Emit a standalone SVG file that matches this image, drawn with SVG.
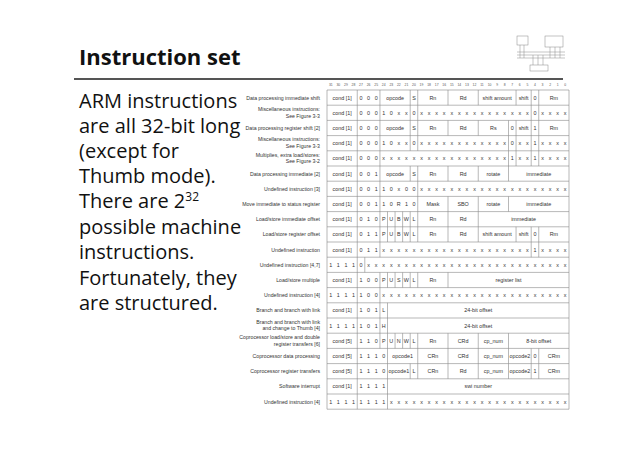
<svg xmlns="http://www.w3.org/2000/svg" width="638" height="451" viewBox="0 0 638 451">
<style>
.t{font-family:"Liberation Sans",Arial,sans-serif;font-size:5.4px;fill:#333;text-anchor:middle}
.l{font-family:"Liberation Sans",Arial,sans-serif;font-size:5.2px;fill:#333;text-anchor:end}
.h{font-family:"Liberation Sans",Arial,sans-serif;font-size:3.4px;fill:#555;text-anchor:middle}
.b{font-family:"Open Sans",sans-serif;font-size:20px;fill:#111}
.g{stroke:#888;stroke-width:0.6;fill:none}
</style>
<rect width="638" height="451" fill="#fff"/>
<text x="79" y="65" font-family="Open Sans, sans-serif" font-weight="bold" font-size="22" fill="#111">Instruction set</text>
<line x1="74" y1="79" x2="563" y2="79" stroke="#555" stroke-width="2"/>
<g id="logo" stroke="#888" stroke-width="0.5" fill="#fff">
<rect x="517" y="36" width="11" height="9"/><rect x="545" y="36" width="18" height="11"/>
<path d="M517 52H565M517 55H565M517 58H565M520 45V58M524 45V58M550 47V58M555 47V58M560 47V58M533 55V65M538 55V65M543 55V65"/>
<rect x="530" y="65" width="18" height="6"/>
</g>
<g id="text">
<text class="b" x="79" y="108">ARM instructions</text>
<text class="b" x="79" y="133">are all 32-bit long</text>
<text class="b" x="79" y="158">(except for</text>
<text class="b" x="79" y="183">Thumb mode).</text>
<text class="b" x="79" y="208">There are 2<tspan font-size="12" dy="-7">32</tspan></text>
<text class="b" x="79" y="234">possible machine</text>
<text class="b" x="79" y="259">instructions.</text>
<text class="b" x="79" y="285">Fortunately, they</text>
<text class="b" x="79" y="310">are structured.</text>
</g>
<g id="header" class="h">
<text x="330.8" y="86">31</text><text x="338.3" y="86">30</text><text x="345.9" y="86">29</text><text x="353.5" y="86">28</text><text x="361.0" y="86">27</text><text x="368.6" y="86">26</text><text x="376.2" y="86">25</text><text x="383.7" y="86">24</text><text x="391.3" y="86">23</text><text x="398.8" y="86">22</text><text x="406.4" y="86">21</text><text x="414.0" y="86">20</text><text x="421.5" y="86">19</text><text x="429.1" y="86">18</text><text x="436.7" y="86">17</text><text x="444.2" y="86">16</text><text x="451.8" y="86">15</text><text x="459.3" y="86">14</text><text x="466.9" y="86">13</text><text x="474.5" y="86">12</text><text x="482.0" y="86">11</text><text x="489.6" y="86">10</text><text x="497.2" y="86">9</text><text x="504.7" y="86">8</text><text x="512.3" y="86">7</text><text x="519.8" y="86">6</text><text x="527.4" y="86">5</text><text x="535.0" y="86">4</text><text x="542.5" y="86">3</text><text x="550.1" y="86">2</text><text x="557.7" y="86">1</text><text x="565.2" y="86">0</text>
</g>
<g id="connectors" class="g">
<path d="M327 90H569M327 105.2H569M327 120.4H569M327 135.6H569M327 150.8H569M327 166H569M327 181.2H569M327 196.4H569M327 211.6H569M327 226.8H569M327 242H569M327 257.2H569M327 272.4H569M327 287.6H569M327 302.8H569M327 318H569M327 333.2H569M327 348.4H569M327 363.6H569M327 378.8H569M327 394H569M327 409.2H569"/>
<path d="M327 90V409.2M569 90V409.2M357.25 90V409.2"/>
<path d="M379.94 90v15.2M410.19 90v15.2M417.75 90v15.2M448 90v15.2M478.25 90v15.2M516.06 90v15.2M531.19 90v15.2M538.75 90v15.2"/>
<path d="M379.94 105.2v15.2M410.19 105.2v15.2M417.75 105.2v15.2M531.19 105.2v15.2M538.75 105.2v15.2"/>
<path d="M379.94 120.4v15.2M410.19 120.4v15.2M417.75 120.4v15.2M448 120.4v15.2M478.25 120.4v15.2M508.5 120.4v15.2M516.06 120.4v15.2M531.19 120.4v15.2M538.75 120.4v15.2"/>
<path d="M379.94 135.6v15.2M410.19 135.6v15.2M417.75 135.6v15.2M508.5 135.6v15.2M516.06 135.6v15.2M531.19 135.6v15.2M538.75 135.6v15.2"/>
<path d="M379.94 150.8v15.2M508.5 150.8v15.2M516.06 150.8v15.2M531.19 150.8v15.2M538.75 150.8v15.2"/>
<path d="M379.94 166v15.2M410.19 166v15.2M417.75 166v15.2M448 166v15.2M478.25 166v15.2M508.5 166v15.2"/>
<path d="M379.94 181.2v15.2M417.75 181.2v15.2"/>
<path d="M379.94 196.4v15.2M417.75 196.4v15.2M448 196.4v15.2M478.25 196.4v15.2M508.5 196.4v15.2"/>
<path d="M379.94 211.6v15.2M387.5 211.6v15.2M395.06 211.6v15.2M402.63 211.6v15.2M410.19 211.6v15.2M417.75 211.6v15.2M448 211.6v15.2M478.25 211.6v15.2"/>
<path d="M379.94 226.8v15.2M387.5 226.8v15.2M395.06 226.8v15.2M402.63 226.8v15.2M410.19 226.8v15.2M417.75 226.8v15.2M448 226.8v15.2M478.25 226.8v15.2M516.06 226.8v15.2M531.19 226.8v15.2M538.75 226.8v15.2"/>
<path d="M379.94 242v15.2M531.19 242v15.2M538.75 242v15.2"/>
<path d="M364.81 257.2v15.2"/>
<path d="M379.94 272.4v15.2M387.5 272.4v15.2M395.06 272.4v15.2M402.63 272.4v15.2M410.19 272.4v15.2M417.75 272.4v15.2M448 272.4v15.2"/>
<path d="M379.94 287.6v15.2"/>
<path d="M379.94 302.8v15.2M387.5 302.8v15.2"/>
<path d="M379.94 318v15.2M387.5 318v15.2"/>
<path d="M379.94 333.2v15.2M387.5 333.2v15.2M395.06 333.2v15.2M402.63 333.2v15.2M410.19 333.2v15.2M417.75 333.2v15.2M448 333.2v15.2M478.25 333.2v15.2M508.5 333.2v15.2"/>
<path d="M387.5 348.4v15.2M417.75 348.4v15.2M448 348.4v15.2M478.25 348.4v15.2M508.5 348.4v15.2M531.19 348.4v15.2M538.75 348.4v15.2"/>
<path d="M387.5 363.6v15.2M410.19 363.6v15.2M417.75 363.6v15.2M448 363.6v15.2M478.25 363.6v15.2M508.5 363.6v15.2M531.19 363.6v15.2M538.75 363.6v15.2"/>
<path d="M387.5 378.8v15.2"/>
<path d="M387.5 394v15.2"/>
</g>
<g id="r1"><text class="l" x="320" y="99.6">Data processing immediate shift</text>
<text class="t" y="99.6" x="342.1">cond [1]</text><text class="t" y="99.6" x="361.0 368.6 376.2">000</text><text class="t" y="99.6" x="395.1">opcode</text><text class="t" y="99.6" x="414">S</text><text class="t" y="99.6" x="432.9">Rn</text><text class="t" y="99.6" x="463.1">Rd</text><text class="t" y="99.6" x="497.2">shift amount</text><text class="t" y="99.6" x="523.6">shift</text><text class="t" y="99.6" x="535">0</text><text class="t" y="99.6" x="553.9">Rm</text></g>
<g id="r2"><text class="l" x="320" y="111">Miscellaneous instructions:</text><text class="l" x="320" y="117.5">See Figure 3-3</text>
<text class="t" y="114.8" x="342.1">cond [1]</text><text class="t" y="114.8" x="361.0 368.6 376.2 383.7 391.3 398.8 406.4 414.0">00010xx0</text><text class="t" y="114.8" x="421.5 429.1 436.7 444.2 451.8 459.3 466.9 474.5 482.0 489.6 497.2 504.7 512.3 519.8 527.4">xxxxxxxxxxxxxxx</text><text class="t" y="114.8" x="535">0</text><text class="t" y="114.8" x="542.5 550.1 557.7 565.2">xxxx</text></g>
<g id="r3"><text class="l" x="320" y="130">Data processing register shift [2]</text>
<text class="t" y="130" x="342.1">cond [1]</text><text class="t" y="130" x="361.0 368.6 376.2">000</text><text class="t" y="130" x="395.1">opcode</text><text class="t" y="130" x="414">S</text><text class="t" y="130" x="432.9">Rn</text><text class="t" y="130" x="463.1">Rd</text><text class="t" y="130" x="493.4">Rs</text><text class="t" y="130" x="512.3">0</text><text class="t" y="130" x="523.6">shift</text><text class="t" y="130" x="535">1</text><text class="t" y="130" x="553.9">Rm</text></g>
<g id="r4"><text class="l" x="320" y="141.4">Miscellaneous instructions:</text><text class="l" x="320" y="147.9">See Figure 3-3</text>
<text class="t" y="145.2" x="342.1">cond [1]</text><text class="t" y="145.2" x="361.0 368.6 376.2 383.7 391.3 398.8 406.4 414.0">00010xx0</text><text class="t" y="145.2" x="421.5 429.1 436.7 444.2 451.8 459.3 466.9 474.5 482.0 489.6 497.2 504.7">xxxxxxxxxxxx</text><text class="t" y="145.2" x="512.3">0</text><text class="t" y="145.2" x="519.8 527.4">xx</text><text class="t" y="145.2" x="535">1</text><text class="t" y="145.2" x="542.5 550.1 557.7 565.2">xxxx</text></g>
<g id="r5"><text class="l" x="320" y="156.6">Multiplies, extra load/stores:</text><text class="l" x="320" y="163.1">See Figure 3-2</text>
<text class="t" y="160.4" x="342.1">cond [1]</text><text class="t" y="160.4" x="361.0 368.6 376.2 383.7 391.3 398.8 406.4 414.0">000xxxxx</text><text class="t" y="160.4" x="421.5 429.1 436.7 444.2 451.8 459.3 466.9 474.5 482.0 489.6 497.2 504.7">xxxxxxxxxxxx</text><text class="t" y="160.4" x="512.3">1</text><text class="t" y="160.4" x="519.8 527.4">xx</text><text class="t" y="160.4" x="535">1</text><text class="t" y="160.4" x="542.5 550.1 557.7 565.2">xxxx</text></g>
<g id="r6"><text class="l" x="320" y="175.6">Data processing immediate [2]</text>
<text class="t" y="175.6" x="342.1">cond [1]</text><text class="t" y="175.6" x="361.0 368.6 376.2">001</text><text class="t" y="175.6" x="395.1">opcode</text><text class="t" y="175.6" x="414">S</text><text class="t" y="175.6" x="432.9">Rn</text><text class="t" y="175.6" x="463.1">Rd</text><text class="t" y="175.6" x="493.4">rotate</text><text class="t" y="175.6" x="538.75">immediate</text></g>
<g id="r7"><text class="l" x="320" y="190.8">Undefined instruction [3]</text>
<text class="t" y="190.8" x="342.1">cond [1]</text><text class="t" y="190.8" x="361.0 368.6 376.2 383.7 391.3 398.8 406.4 414.0">00110x00</text><text class="t" y="190.8" x="421.5 429.1 436.7 444.2 451.8 459.3 466.9 474.5 482.0 489.6 497.2 504.7 512.3 519.8 527.4 535.0 542.5 550.1 557.7 565.2">xxxxxxxxxxxxxxxxxxxx</text></g>
<g id="r8"><text class="l" x="320" y="206">Move immediate to status register</text>
<text class="t" y="206" x="342.1">cond [1]</text><text class="t" y="206" x="361.0 368.6 376.2 383.7 391.3 398.8 406.4 414.0">00110R10</text><text class="t" y="206" x="432.9">Mask</text><text class="t" y="206" x="463.1">SBO</text><text class="t" y="206" x="493.4">rotate</text><text class="t" y="206" x="538.75">immediate</text></g>
<g id="r9"><text class="l" x="320" y="221.2">Load/store immediate offset</text>
<text class="t" y="221.2" x="342.1">cond [1]</text><text class="t" y="221.2" x="361.0 368.6 376.2 383.7 391.3 398.8 406.4 414.0">010PUBWL</text><text class="t" y="221.2" x="432.9">Rn</text><text class="t" y="221.2" x="463.1">Rd</text><text class="t" y="221.2" x="523.6">immediate</text></g>
<g id="r10"><text class="l" x="320" y="236.4">Load/store register offset</text>
<text class="t" y="236.4" x="342.1">cond [1]</text><text class="t" y="236.4" x="361.0 368.6 376.2 383.7 391.3 398.8 406.4 414.0">011PUBWL</text><text class="t" y="236.4" x="432.9">Rn</text><text class="t" y="236.4" x="463.1">Rd</text><text class="t" y="236.4" x="497.2">shift amount</text><text class="t" y="236.4" x="523.6">shift</text><text class="t" y="236.4" x="535">0</text><text class="t" y="236.4" x="553.9">Rm</text></g>
<g id="r11"><text class="l" x="320" y="251.6">Undefined instruction</text>
<text class="t" y="251.6" x="342.1">cond [1]</text><text class="t" y="251.6" x="361.0 368.6 376.2">011</text><text class="t" y="251.6" x="383.7 391.3 398.8 406.4 414.0 421.5 429.1 436.7 444.2 451.8 459.3 466.9 474.5 482.0 489.6 497.2 504.7 512.3 519.8 527.4">xxxxxxxxxxxxxxxxxxxx</text><text class="t" y="251.6" x="535">1</text><text class="t" y="251.6" x="542.5 550.1 557.7 565.2">xxxx</text></g>
<g id="r12"><text class="l" x="320" y="266.8">Undefined instruction [4,7]</text>
<text class="t" y="266.8" x="330.8 338.3 345.9 353.5 361.0">11110</text><text class="t" y="266.8" x="368.6 376.2 383.7 391.3 398.8 406.4 414.0 421.5 429.1 436.7 444.2 451.8 459.3 466.9 474.5 482.0 489.6 497.2 504.7 512.3 519.8 527.4 535.0 542.5 550.1 557.7 565.2">xxxxxxxxxxxxxxxxxxxxxxxxxxx</text></g>
<g id="r13"><text class="l" x="320" y="282">Load/store multiple</text>
<text class="t" y="282" x="342.1">cond [1]</text><text class="t" y="282" x="361.0 368.6 376.2 383.7 391.3 398.8 406.4 414.0">100PUSWL</text><text class="t" y="282" x="432.9">Rn</text><text class="t" y="282" x="508.5">register list</text></g>
<g id="r14"><text class="l" x="320" y="297.2">Undefined instruction [4]</text>
<text class="t" y="297.2" x="330.8 338.3 345.9 353.5 361.0 368.6 376.2">1111100</text><text class="t" y="297.2" x="383.7 391.3 398.8 406.4 414.0 421.5 429.1 436.7 444.2 451.8 459.3 466.9 474.5 482.0 489.6 497.2 504.7 512.3 519.8 527.4 535.0 542.5 550.1 557.7 565.2">xxxxxxxxxxxxxxxxxxxxxxxxx</text></g>
<g id="r15"><text class="l" x="320" y="312.4">Branch and branch with link</text>
<text class="t" y="312.4" x="342.1">cond [1]</text><text class="t" y="312.4" x="361.0 368.6 376.2 383.7">101L</text><text class="t" y="312.4" x="478.25">24-bit offset</text></g>
<g id="r16"><text class="l" x="320" y="323.8">Branch and branch with link</text><text class="l" x="320" y="330.3">and change to Thumb [4]</text>
<text class="t" y="327.6" x="330.8 338.3 345.9 353.5 361.0 368.6 376.2 383.7">1111101H</text><text class="t" y="327.6" x="478.25">24-bit offset</text></g>
<g id="r17"><text class="l" x="320" y="339">Coprocessor load/store and double</text><text class="l" x="320" y="345.5">register transfers [6]</text>
<text class="t" y="342.8" x="342.1">cond [5]</text><text class="t" y="342.8" x="361.0 368.6 376.2 383.7 391.3 398.8 406.4 414.0">110PUNWL</text><text class="t" y="342.8" x="432.9">Rn</text><text class="t" y="342.8" x="463.1">CRd</text><text class="t" y="342.8" x="493.4">cp_num</text><text class="t" y="342.8" x="538.75">8-bit offset</text></g>
<g id="r18"><text class="l" x="320" y="358">Coprocessor data processing</text>
<text class="t" y="358" x="342.1">cond [5]</text><text class="t" y="358" x="361.0 368.6 376.2 383.7">1110</text><text class="t" y="358" x="402.6">opcode1</text><text class="t" y="358" x="432.9">CRn</text><text class="t" y="358" x="463.1">CRd</text><text class="t" y="358" x="493.4">cp_num</text><text class="t" y="358" x="519.8">opcode2</text><text class="t" y="358" x="535">0</text><text class="t" y="358" x="553.9">CRm</text></g>
<g id="r19"><text class="l" x="320" y="373.2">Coprocessor register transfers</text>
<text class="t" y="373.2" x="342.1">cond [5]</text><text class="t" y="373.2" x="361.0 368.6 376.2 383.7">1110</text><text class="t" y="373.2" x="398.8">opcode1</text><text class="t" y="373.2" x="414">L</text><text class="t" y="373.2" x="432.9">CRn</text><text class="t" y="373.2" x="463.1">Rd</text><text class="t" y="373.2" x="493.4">cp_num</text><text class="t" y="373.2" x="519.8">opcode2</text><text class="t" y="373.2" x="535">1</text><text class="t" y="373.2" x="553.9">CRm</text></g>
<g id="r20"><text class="l" x="320" y="388.4">Software interrupt</text>
<text class="t" y="388.4" x="342.1">cond [1]</text><text class="t" y="388.4" x="361.0 368.6 376.2 383.7">1111</text><text class="t" y="388.4" x="478.25">swi number</text></g>
<g id="r21"><text class="l" x="320" y="403.6">Undefined instruction [4]</text>
<text class="t" y="403.6" x="330.8 338.3 345.9 353.5 361.0 368.6 376.2 383.7">11111111</text><text class="t" y="403.6" x="391.3 398.8 406.4 414.0 421.5 429.1 436.7 444.2 451.8 459.3 466.9 474.5 482.0 489.6 497.2 504.7 512.3 519.8 527.4 535.0 542.5 550.1 557.7 565.2">xxxxxxxxxxxxxxxxxxxxxxxx</text></g>
</svg>
